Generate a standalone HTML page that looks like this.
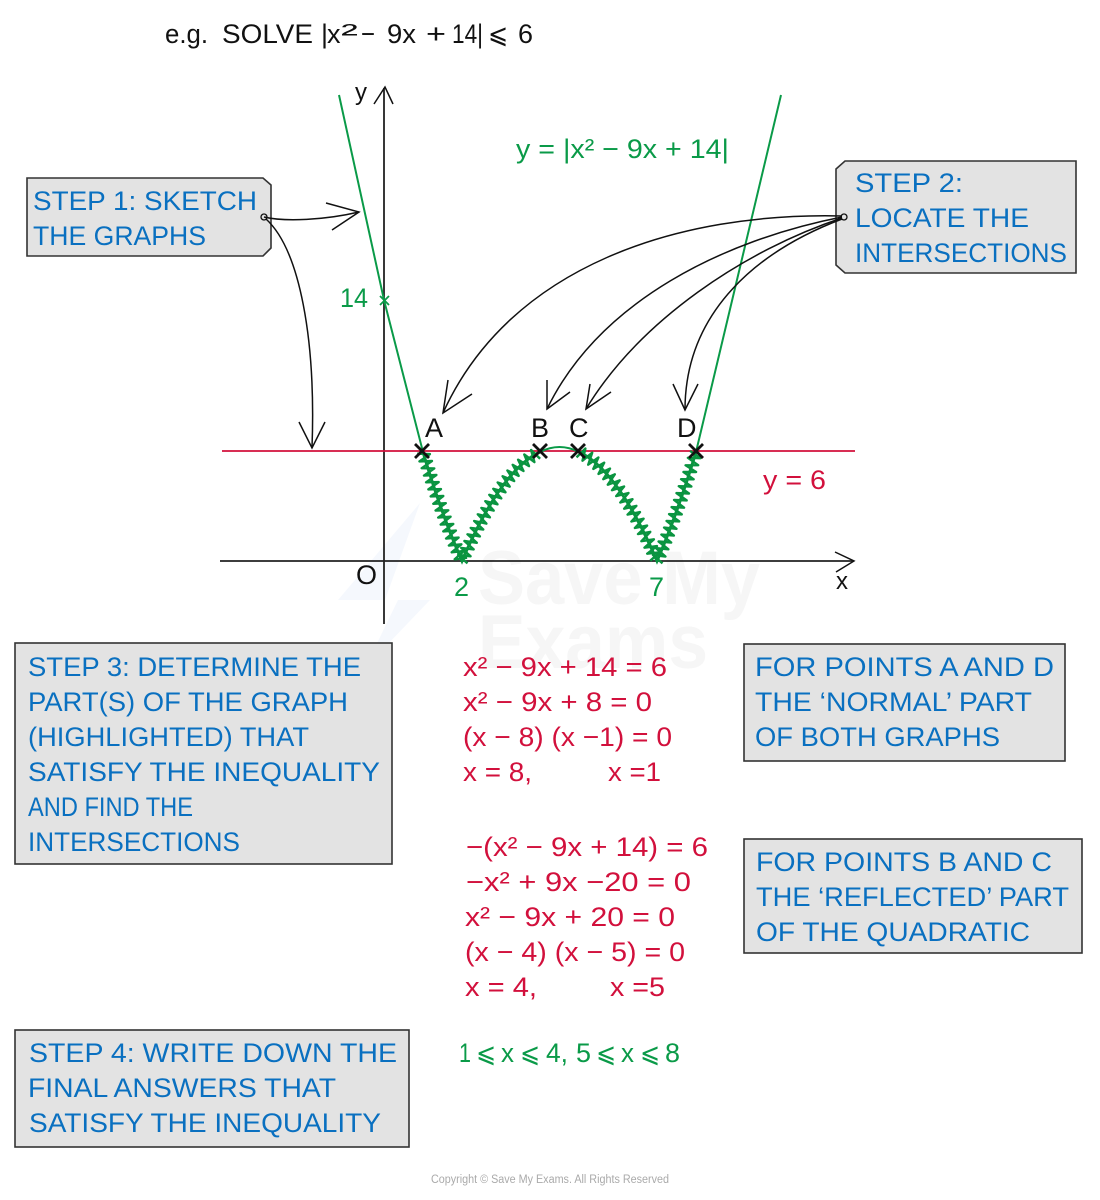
<!DOCTYPE html>
<html>
<head>
<meta charset="utf-8">
<style>
html,body{margin:0;padding:0;background:#fff;width:1100px;height:1200px;overflow:hidden}
svg{display:block}
text{font-family:"Liberation Sans","DejaVu Sans",sans-serif;font-size:27px}
.b text{fill:#0a70c0}
.r text{fill:#d2103c}
.g{fill:#0a9a48}
.box{fill:#e3e3e3;stroke:#333;stroke-width:1.6}
.k{fill:none;stroke:#111;stroke-width:1.5}
</style>
</head>
<body>
<svg width="1100" height="1200" viewBox="0 0 1100 1200" xmlns="http://www.w3.org/2000/svg">
<!-- watermark -->
<polygon points="420,503 338,600 398,600 365,668 430,600 385,600 " fill="#f5f8fd"/>
<text x="478" y="604" textLength="282" lengthAdjust="spacingAndGlyphs" style="font-size:76px;font-weight:bold" fill="#f6f6f6">Save My</text>
<text x="478" y="668" textLength="230" lengthAdjust="spacingAndGlyphs" style="font-size:76px;font-weight:bold" fill="#f6f6f6">Exams</text>

<!-- axes -->
<path d="M384 88 L384 624" stroke="#222" stroke-width="1.8" fill="none"/>
<path d="M374 104 L385 87 L393 104" class="k"/>
<path d="M220 561 L853 561" stroke="#222" stroke-width="1.8" fill="none"/>
<path d="M835 552 L854 561 L836 572" class="k"/>

<!-- y=6 -->
<path d="M222 451 L855 451" stroke="#d2103c" stroke-width="1.8" fill="none"/>

<!-- outer graph -->
<path d="M339 95 L384 300 L423 452" stroke="#0a9a48" stroke-width="2" fill="none"/>
<path d="M696 452 L781 95" stroke="#0a9a48" stroke-width="2" fill="none"/>
<path d="M540 452 Q559.5 442 579 452" stroke="#0a9a48" stroke-width="2" fill="none"/>

<!-- highlighted parts -->
<g fill="none" stroke="#0a9440">
<path d="M423 452 Q442 516 462 561 Q501 470 540 452 M579 452 Q618 470 657 561 Q676.5 516 696 452" stroke-width="3"/>
<path id="zz" d="" stroke-width="2.4" stroke-linejoin="round"/>
</g>
<script>
(function(){
  var segs=[[423,452,442,516,462,561],[462,561,501,470,540,452],[579,452,618,470,657,561],[657,561,676.5,516,696,452]];
  var d='';
  segs.forEach(function(s){
    var pts=[],n=200,len=0,prev=null,i;
    for(i=0;i<=n;i++){
      var t=i/n,u=1-t;
      var x=u*u*s[0]+2*u*t*s[2]+t*t*s[4],y=u*u*s[1]+2*u*t*s[3]+t*t*s[5];
      var dx=2*u*(s[2]-s[0])+2*t*(s[4]-s[2]),dy=2*u*(s[3]-s[1])+2*t*(s[5]-s[3]);
      if(prev){len+=Math.hypot(x-prev[0],y-prev[1]);}
      prev=[x,y,dx,dy,len];pts.push(prev);
    }
    var step=3.7,sign=1,next=0,first=true;
    pts.forEach(function(p){
      if(p[4]>=next){
        var m=Math.hypot(p[2],p[3]),o=6*sign;
        d+=(first?'M':'L')+(p[0]-p[3]/m*o).toFixed(1)+' '+(p[1]+p[2]/m*o).toFixed(1)+' ';
        first=false;sign=-sign;next+=step;
      }
    });
  });
  document.getElementById('zz').setAttribute('d',d);
})();
</script>

<!-- crosses -->
<g stroke="#111" stroke-width="2.8" fill="none">
<path d="M415 444 L429 458 M429 444 L415 458"/>
<path d="M533 444 L547 458 M547 444 L533 458"/>
<path d="M571 444 L585 458 M585 444 L571 458"/>
<path d="M689 444 L703 458 M703 444 L689 458"/>
</g>
<path d="M380 296 L389 305 M389 296 L380 305" stroke="#0a9a48" stroke-width="1.8"/>

<!-- boxes -->
<polygon class="box" points="27,178 263,178 271,185 271,248 263,256 27,256"/>
<polygon class="box" points="845,161 1076,161 1076,273 845,273 836,265 836,169"/>
<rect class="box" x="15" y="643" width="377" height="221"/>
<rect class="box" x="744" y="644" width="321" height="117"/>
<rect class="box" x="744" y="839" width="338" height="114"/>
<rect class="box" x="15" y="1030" width="394" height="117"/>

<!-- arrows step 1 -->
<circle cx="264" cy="217" r="3" fill="#e3e3e3" stroke="#111" stroke-width="1.3"/>
<path class="k" d="M264 217 C285 222 325 220 359 212"/>
<path class="k" d="M326 203 L359 212 L332 230"/>
<path class="k" d="M266 219 C300 250 316 340 312 448"/>
<path class="k" d="M299 422 L312 448 L325 422"/>

<!-- arrows step 2 -->
<circle cx="844" cy="217" r="3" fill="#e3e3e3" stroke="#111" stroke-width="1.3"/>
<path class="k" d="M842 216 C680 212 510 265 443 413"/>
<path class="k" d="M448 380 L443 413 L472 394"/>
<path class="k" d="M842 217 C725 240 600 300 547 409"/>
<path class="k" d="M547 380 L547 409 L570 392"/>
<path class="k" d="M842 218 C745 250 640 320 586 409"/>
<path class="k" d="M590 384 L586 409 L611 392"/>
<path class="k" d="M842 219 C760 250 685 310 685 410"/>
<path class="k" d="M673 384 L685 410 L698 384"/>

<g transform="translate(0,-1)">
<!-- title -->
<g fill="#111">
<text x="165" y="44" textLength="43" lengthAdjust="spacingAndGlyphs">e.g.</text>
<text x="222" y="44" textLength="91" lengthAdjust="spacingAndGlyphs">SOLVE</text>
<text x="321" y="44">|</text>
<text x="327" y="44">x</text>
<text x="341" y="44" textLength="17" lengthAdjust="spacingAndGlyphs">²</text>
<text x="361" y="44" textLength="14" lengthAdjust="spacingAndGlyphs">−</text>
<text x="387" y="44" textLength="29" lengthAdjust="spacingAndGlyphs">9x</text>
<text x="426" y="44" textLength="20" lengthAdjust="spacingAndGlyphs">+</text>
<text x="452" y="44" textLength="31" lengthAdjust="spacingAndGlyphs">14|</text>
<text x="488" y="44" textLength="20" lengthAdjust="spacingAndGlyphs">⩽</text>
<text x="518" y="44" textLength="15" lengthAdjust="spacingAndGlyphs">6</text>
</g>

<!-- axis labels -->
<text x="355" y="101" fill="#111" style="font-size:24px">y</text>
<text x="836" y="590" fill="#111" style="font-size:24px">x</text>
<text x="356" y="585" fill="#111">O</text>

<!-- point labels -->
<g fill="#111">
<text x="425" y="438">A</text>
<text x="531" y="438">B</text>
<text x="569" y="438">C</text>
<text x="677" y="438">D</text>
</g>
<text x="340" y="308" textLength="28" lengthAdjust="spacingAndGlyphs" class="g">14</text>
<text x="454" y="597" class="g">2</text>
<text x="649" y="597" class="g">7</text>
<text x="516" y="159" textLength="213" lengthAdjust="spacingAndGlyphs" class="g">y = |x² − 9x + 14|</text>
<text x="763" y="490" textLength="63" lengthAdjust="spacingAndGlyphs" fill="#d2103c">y = 6</text>

<!-- blue text -->
<g class="b">
<text x="33" y="211" textLength="224" lengthAdjust="spacingAndGlyphs">STEP 1: SKETCH</text>
<text x="33" y="246" textLength="173" lengthAdjust="spacingAndGlyphs">THE GRAPHS</text>
<text x="855" y="193" textLength="108" lengthAdjust="spacingAndGlyphs">STEP 2:</text>
<text x="855" y="228" textLength="174" lengthAdjust="spacingAndGlyphs">LOCATE THE</text>
<text x="855" y="263" textLength="212" lengthAdjust="spacingAndGlyphs">INTERSECTIONS</text>
<text x="28" y="677" textLength="333" lengthAdjust="spacingAndGlyphs">STEP 3: DETERMINE THE</text>
<text x="28" y="712" textLength="320" lengthAdjust="spacingAndGlyphs">PART(S) OF THE GRAPH</text>
<text x="28" y="747" textLength="281" lengthAdjust="spacingAndGlyphs">(HIGHLIGHTED) THAT</text>
<text x="28" y="782" textLength="352" lengthAdjust="spacingAndGlyphs">SATISFY THE INEQUALITY</text>
<text x="28" y="817" textLength="165" lengthAdjust="spacingAndGlyphs">AND FIND THE</text>
<text x="28" y="852" textLength="212" lengthAdjust="spacingAndGlyphs">INTERSECTIONS</text>
<text x="755" y="677" textLength="299" lengthAdjust="spacingAndGlyphs">FOR POINTS A AND D</text>
<text x="755" y="712" textLength="277" lengthAdjust="spacingAndGlyphs">THE ‘NORMAL’ PART</text>
<text x="755" y="747" textLength="245" lengthAdjust="spacingAndGlyphs">OF BOTH GRAPHS</text>
<text x="756" y="872" textLength="296" lengthAdjust="spacingAndGlyphs">FOR POINTS B AND C</text>
<text x="756" y="907" textLength="313" lengthAdjust="spacingAndGlyphs">THE ‘REFLECTED’ PART</text>
<text x="756" y="942" textLength="274" lengthAdjust="spacingAndGlyphs">OF THE QUADRATIC</text>
<text x="29" y="1063" textLength="368" lengthAdjust="spacingAndGlyphs">STEP 4: WRITE DOWN THE</text>
<text x="28" y="1098" textLength="308" lengthAdjust="spacingAndGlyphs">FINAL ANSWERS THAT</text>
<text x="29" y="1133" textLength="352" lengthAdjust="spacingAndGlyphs">SATISFY THE INEQUALITY</text>
</g>

<!-- red math -->
<g class="r">
<text x="463" y="677" textLength="204" lengthAdjust="spacingAndGlyphs">x² − 9x + 14 = 6</text>
<text x="463" y="712" textLength="189" lengthAdjust="spacingAndGlyphs">x² − 9x + 8 = 0</text>
<text x="463" y="747" textLength="209" lengthAdjust="spacingAndGlyphs">(x − 8) (x −1) = 0</text>
<text x="463" y="782" textLength="69" lengthAdjust="spacingAndGlyphs">x = 8,</text>
<text x="608" y="782" textLength="53" lengthAdjust="spacingAndGlyphs">x =1</text>
<text x="466" y="857" textLength="242" lengthAdjust="spacingAndGlyphs">−(x² − 9x + 14) = 6</text>
<text x="466" y="892" textLength="225" lengthAdjust="spacingAndGlyphs">−x² + 9x −20 = 0</text>
<text x="465" y="927" textLength="210" lengthAdjust="spacingAndGlyphs">x² − 9x + 20 = 0</text>
<text x="465" y="962" textLength="220" lengthAdjust="spacingAndGlyphs">(x − 4) (x − 5) = 0</text>
<text x="465" y="997" textLength="72" lengthAdjust="spacingAndGlyphs">x = 4,</text>
<text x="610" y="997" textLength="55" lengthAdjust="spacingAndGlyphs">x =5</text>
</g>

<!-- green answer -->
<g class="g">
<text x="459" y="1063" class="g" textLength="12" lengthAdjust="spacingAndGlyphs">1</text>
<text x="476" y="1063" class="g" textLength="20" lengthAdjust="spacingAndGlyphs">⩽</text>
<text x="501" y="1063" class="g" textLength="13" lengthAdjust="spacingAndGlyphs">x</text>
<text x="520" y="1063" class="g" textLength="20" lengthAdjust="spacingAndGlyphs">⩽</text>
<text x="546" y="1063" class="g" textLength="22" lengthAdjust="spacingAndGlyphs">4,</text>
<text x="576" y="1063" class="g" textLength="15" lengthAdjust="spacingAndGlyphs">5</text>
<text x="596" y="1063" class="g" textLength="20" lengthAdjust="spacingAndGlyphs">⩽</text>
<text x="621" y="1063" class="g" textLength="13" lengthAdjust="spacingAndGlyphs">x</text>
<text x="640" y="1063" class="g" textLength="20" lengthAdjust="spacingAndGlyphs">⩽</text>
<text x="665" y="1063" class="g" textLength="15" lengthAdjust="spacingAndGlyphs">8</text>
</g>

<!-- copyright -->
<text x="431" y="1184" textLength="238" lengthAdjust="spacingAndGlyphs" style="font-size:11.5px" fill="#aaa">Copyright © Save My Exams. All Rights Reserved</text>
</g>
</svg>
</body>
</html>
